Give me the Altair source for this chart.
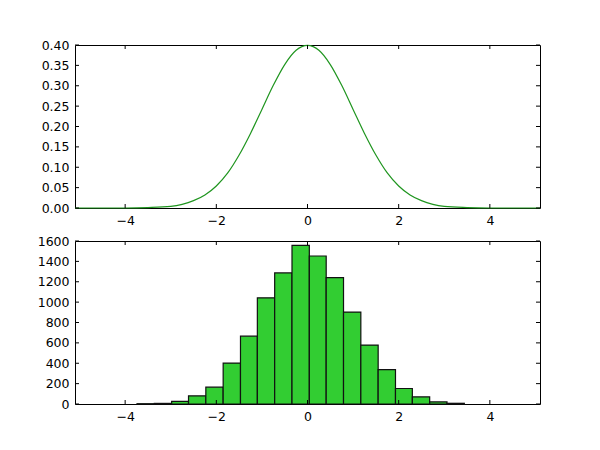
import altair as alt
import pandas as pd

# ---- data ----
pdf_x = [-5.1, -4.5, -4.0, -3.5, -3.0, -2.75, -2.5, -2.25, -2.0, -1.75, -1.5, -1.25, -1.0,
         -0.75, -0.5, -0.25, 0.0, 0.25, 0.5, 0.75, 1.0, 1.25, 1.5, 1.75, 2.0, 2.25, 2.5,
         2.75, 3.0, 3.5, 4.0, 4.5, 5.1]
pdf_y = [0.000, 0.000, 0.000, 0.001, 0.004, 0.009, 0.018, 0.032, 0.054, 0.086, 0.130, 0.183, 0.242,
         0.301, 0.352, 0.387, 0.399, 0.387, 0.352, 0.301, 0.242, 0.183, 0.130, 0.086, 0.054, 0.032, 0.018,
         0.009, 0.004, 0.001, 0.000, 0.000, 0.000]

bin_edges = [-3.74, -3.36, -2.98, -2.61, -2.23, -1.85, -1.47, -1.10, -0.72, -0.34,
             0.04, 0.41, 0.79, 1.17, 1.55, 1.93, 2.30, 2.68, 3.06, 3.44]
counts = [3, 6, 25, 80, 165, 402, 666, 1042, 1287, 1558, 1453, 1241, 902, 578, 337, 152, 70, 20, 7]

x_ticks = [-4, -2, 0, 2, 4]
y_ticks_top = [0.0, 0.05, 0.10, 0.15, 0.20, 0.25, 0.30, 0.35, 0.40]
y_ticks_bottom = [0, 200, 400, 600, 800, 1000, 1200, 1400, 1600]

pdf_df = pd.DataFrame({"x": pdf_x, "y": pdf_y})
hist_df = pd.DataFrame({"start": bin_edges[:-1], "end": bin_edges[1:], "count": counts})
xt_df = pd.DataFrame({"v": x_ticks})
yt_top_df = pd.DataFrame({"v": y_ticks_top})
yt_bot_df = pd.DataFrame({"v": y_ticks_bottom})

W, H = 465, 163
TL = 4  # inward tick length

xscale = alt.Scale(domain=[-5.1, 5.1], nice=False, zero=False)
yscale_top = alt.Scale(domain=[0, 0.4], nice=False, zero=False)
yscale_bot = alt.Scale(domain=[0, 1600], nice=False, zero=False)

axis_common = dict(ticks=False, domain=False, grid=False, labelFont="DejaVu Sans",
                   labelFontSize=12.5, labelColor="black", title=None)
xaxis = alt.Axis(values=x_ticks, labelPadding=6, **axis_common)
yaxis_top = alt.Axis(values=y_ticks_top, format=".2f", labelPadding=6, **axis_common)
yaxis_bot = alt.Axis(values=y_ticks_bottom, format="d", labelPadding=6, **axis_common)


def tick_layers(yt_df, yscale, yaxis):
    bx = alt.Chart(xt_df).mark_rule(color="black", strokeWidth=1).encode(
        x=alt.X("v:Q", scale=xscale, axis=xaxis), y=alt.value(H), y2=alt.value(H - TL))
    tx = alt.Chart(xt_df).mark_rule(color="black", strokeWidth=1).encode(
        x=alt.X("v:Q", scale=xscale, axis=xaxis), y=alt.value(0), y2=alt.value(TL))
    ly = alt.Chart(yt_df).mark_rule(color="black", strokeWidth=1).encode(
        y=alt.Y("v:Q", scale=yscale, axis=yaxis), x=alt.value(0), x2=alt.value(TL))
    ry = alt.Chart(yt_df).mark_rule(color="black", strokeWidth=1).encode(
        y=alt.Y("v:Q", scale=yscale, axis=yaxis), x=alt.value(W - TL), x2=alt.value(W))
    return [bx, tx, ly, ry]


line = alt.Chart(pdf_df).mark_line(color="#1f951f", strokeWidth=1.2, interpolate="monotone").encode(
    x=alt.X("x:Q", scale=xscale, axis=xaxis),
    y=alt.Y("y:Q", scale=yscale_top, axis=yaxis_top),
)
top = alt.layer(line, *tick_layers(yt_top_df, yscale_top, yaxis_top)).properties(width=W, height=H)

bars = alt.Chart(hist_df).mark_rect(color="#32CD32", stroke="#111111", strokeWidth=1.2).encode(
    x=alt.X("start:Q", scale=xscale, axis=xaxis),
    x2="end:Q",
    y=alt.Y("count:Q", scale=yscale_bot, axis=yaxis_bot),
    y2=alt.datum(0),
)
bottom = alt.layer(bars, *tick_layers(yt_bot_df, yscale_bot, yaxis_bot)).properties(width=W, height=H)

chart = alt.vconcat(top, bottom, spacing=33, bounds="flush").properties(
    padding={"left": 28, "top": 30, "right": 5, "bottom": 5}
).configure(
    background="white",
    view=alt.ViewConfig(stroke="black", strokeWidth=1),
)

chart.save("out.html", embed_options={"renderer": "svg", "actions": False})
